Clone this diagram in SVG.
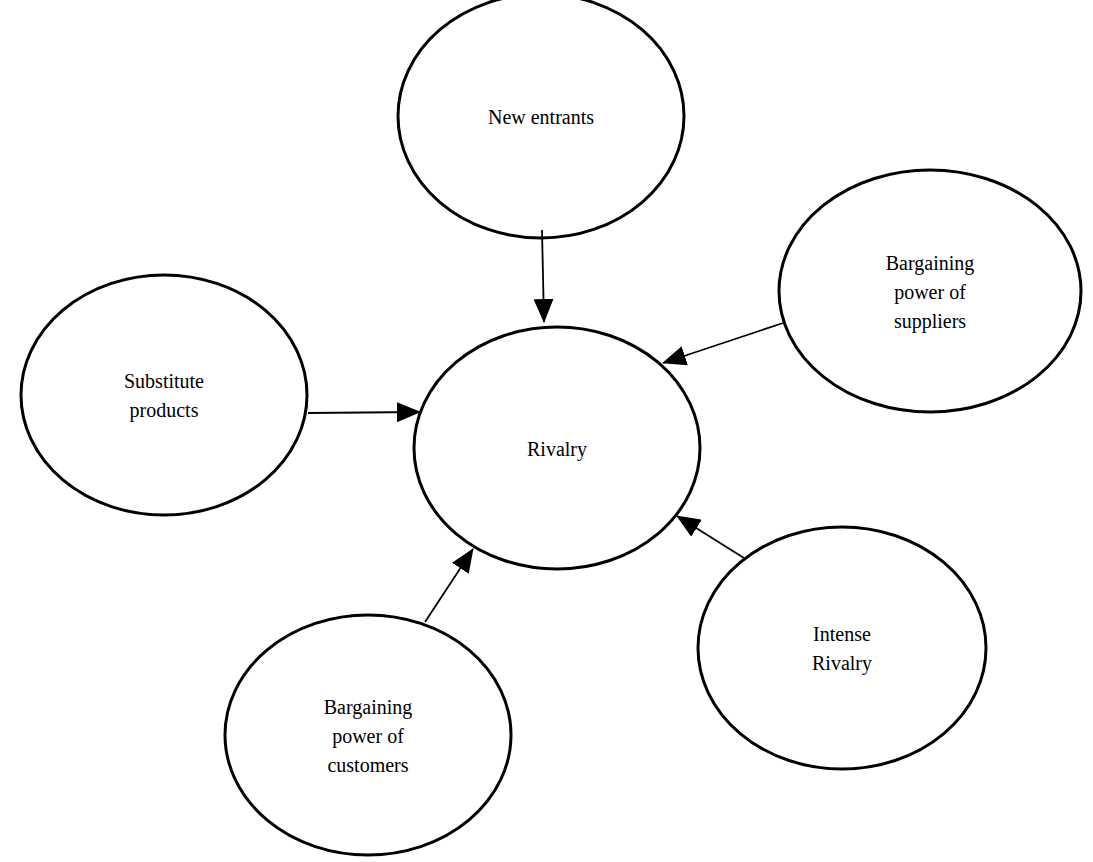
<svg xmlns="http://www.w3.org/2000/svg" width="1093" height="862" viewBox="0 0 1093 862">
<defs><marker id="a" markerWidth="24" markerHeight="20" refX="23" refY="10" orient="auto" markerUnits="userSpaceOnUse" viewBox="0 0 24 20"><path d="M0,0 L24,10 L0,20 z" fill="#000"/></marker>
<style>ellipse{fill:#fff;stroke:#000;stroke-width:3}text{font-family:"Liberation Serif",serif;font-size:20px;text-anchor:middle}line{stroke:#000;stroke-width:1.8}</style></defs>
<rect width="1093" height="862" fill="#fff"/>
<g id="new"><ellipse cx="541" cy="116" rx="143" ry="122"/><text x="541" y="124">New entrants</text></g>
<g id="sup"><ellipse cx="930" cy="291" rx="151" ry="121"/><text x="930" y="270">Bargaining</text><text x="930" y="299">power of</text><text x="930" y="328">suppliers</text></g>
<g id="sub"><ellipse cx="164" cy="395" rx="143" ry="120"/><text x="164" y="388">Substitute</text><text x="164" y="417">products</text></g>
<g id="riv"><ellipse cx="557" cy="448" rx="143" ry="121"/><text x="557" y="456">Rivalry</text></g>
<g id="int"><ellipse cx="842" cy="648" rx="144" ry="121"/><text x="842" y="641">Intense</text><text x="842" y="670">Rivalry</text></g>
<g id="cus"><ellipse cx="368" cy="735" rx="143" ry="120"/><text x="368" y="714">Bargaining</text><text x="368" y="743">power of</text><text x="368" y="772">customers</text></g>
<g id="edges">
<line x1="542" y1="230" x2="544" y2="322" marker-end="url(#a)"/>
<line x1="783" y1="323" x2="663" y2="363" marker-end="url(#a)"/>
<line x1="308" y1="413" x2="420" y2="412" marker-end="url(#a)"/>
<line x1="744" y1="558" x2="677" y2="516" marker-end="url(#a)"/>
<line x1="425" y1="622" x2="473" y2="549" marker-end="url(#a)"/>
</g>
</svg>
